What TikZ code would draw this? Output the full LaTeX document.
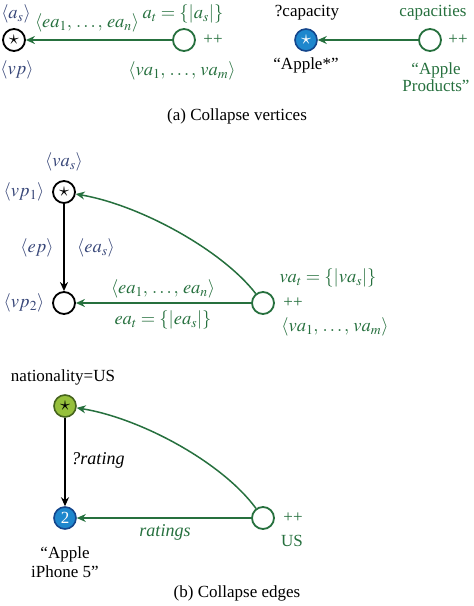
\documentclass[tikz,border=0pt]{standalone}
\usepackage{mathptmx}
\usepackage{fontspec}
\setmainfont{Liberation Serif}
\usetikzlibrary{arrows.meta}
\definecolor{gr}{RGB}{38,112,62}
\definecolor{sl}{RGB}{55,70,120}
\definecolor{bfill}{RGB}{30,135,205}
\definecolor{bdraw}{RGB}{20,70,140}
\definecolor{yfill}{RGB}{150,192,60}
\definecolor{ydraw}{RGB}{70,100,30}
\newcommand{\bigstr}{\fontsize{20}{20}\selectfont$\star$}
\begin{document}
\begin{tikzpicture}[x=1pt,y=-1pt,
  every node/.style={font=\fontsize{17}{20}\selectfont, inner sep=0pt},
  vb/.style={circle, draw=black, line width=1.8pt, minimum size=22pt},
  vg/.style={circle, draw=gr, line width=1.8pt, minimum size=22pt},
  vbl/.style={circle, draw=bdraw, fill=bfill, line width=1.6pt, minimum size=22pt, text=white},
  vy/.style={circle, draw=ydraw, fill=yfill, line width=1.6pt, minimum size=22pt},
  ga/.style={draw=gr, line width=1.5pt, -{Stealth[length=9pt,width=8pt]}},
  ba/.style={draw=black, line width=1.5pt, -{Stealth[length=9pt,width=8pt]}},
  gl/.style={text=gr, font=\fontsize{18.5}{20}\selectfont},
  gt/.style={text=gr},
  sll/.style={text=sl, font=\fontsize{18.5}{20}\selectfont}]
\useasboundingbox (0,0) rectangle (474,606);
% (a) left
\node[vb] (s1) at (14,40) {\bigstr};
\node[vg] (g1) at (184,40) {};
\draw[ga] (g1) -- (s1);
\node[sll] (las) at (16,14) {$\langle a_s\rangle$};
\node[sll] (lvp) at (17,70) {$\langle vp\rangle$};
\node[gl] (lea) at (87,23) {$\langle ea_1,\,\ldots,\,ea_n\rangle$};
\node[gl] (lat) at (183,14) {$a_t=\{|a_s|\}$};
\node[gt] (lpp1) at (213,40) {++};
\node[gl] (lva) at (182,71) {$\langle va_1,\,\ldots,\,va_m\rangle$};
% (a) right
\node[vbl] (b1) at (306,40) {\bigstr};
\node[vg] (g2) at (430,40) {};
\draw[ga] (g2) -- (b1);
\node (lcap) at (307,13) {?capacity};
\node[gt] (lcaps) at (433,13) {capacities};
\node (lapple) at (306,65) {``Apple*''};
\node[gt, align=center, font=\fontsize{17}{17}\selectfont] (lprod) at (436,77) {``Apple\\Products''};
\node[gt] (lpp2) at (458,40) {++};
\node (capa) at (237,116) {(a) Collapse vertices};
% (b) middle
\node[vb] (vp1) at (64,192) {\bigstr};
\node[vb] (vp2) at (64,303) {};
\node[vg] (g3) at (263,303) {};
\draw[ba] (vp1) -- (vp2);
\draw[ga] (g3) -- (vp2);
\draw[ga] (g3) .. controls (222,250) and (140,205) .. (vp1);
\node[sll] (lvas) at (64,162) {$\langle va_s\rangle$};
\node[sll] (lvp1) at (24,192) {$\langle vp_1\rangle$};
\node[sll] (lvp2) at (24,303) {$\langle vp_2\rangle$};
\node[sll] (lep) at (37,248) {$\langle ep\rangle$};
\node[sll] (leas) at (96,248) {$\langle ea_s\rangle$};
\node[gl] (lea2) at (163,289) {$\langle ea_1,\,\ldots,\,ea_n\rangle$};
\node[gl] (leat) at (163,320) {$ea_t=\{|ea_s|\}$};
\node[gl] (lvat) at (328,278) {$va_t=\{|va_s|\}$};
\node[gt] (lpp3) at (293,303) {++};
\node[gl] (lva2) at (335,327) {$\langle va_1,\,\ldots,\,va_m\rangle$};
% (b) bottom
\node[vy] (n1) at (65,406) {\bigstr};
\node[vbl] (n2) at (65,518) {2};
\node[vg] (g4) at (263,518) {};
\draw[ba] (n1) -- (n2);
\draw[ga] (g4) -- (n2);
\draw[ga] (g4) .. controls (222,462) and (140,418) .. (n1);
\node (lnat) at (63,377) {nationality=US};
\node[font=\fontsize{18}{20}\selectfont\itshape] (lrat) at (98,460) {?rating};
\node[gt, font=\fontsize{18}{20}\selectfont\itshape] (lrats) at (165,532) {ratings};
\node[gt] (lpp4) at (293,518) {++};
\node[gt] (lus) at (292,541) {US};
\node[align=center, font=\fontsize{17}{19}\selectfont] (liph) at (65,562) {``Apple\\iPhone 5''};
\node (capb) at (237,593) {(b) Collapse edges};
\end{tikzpicture}
\end{document}
